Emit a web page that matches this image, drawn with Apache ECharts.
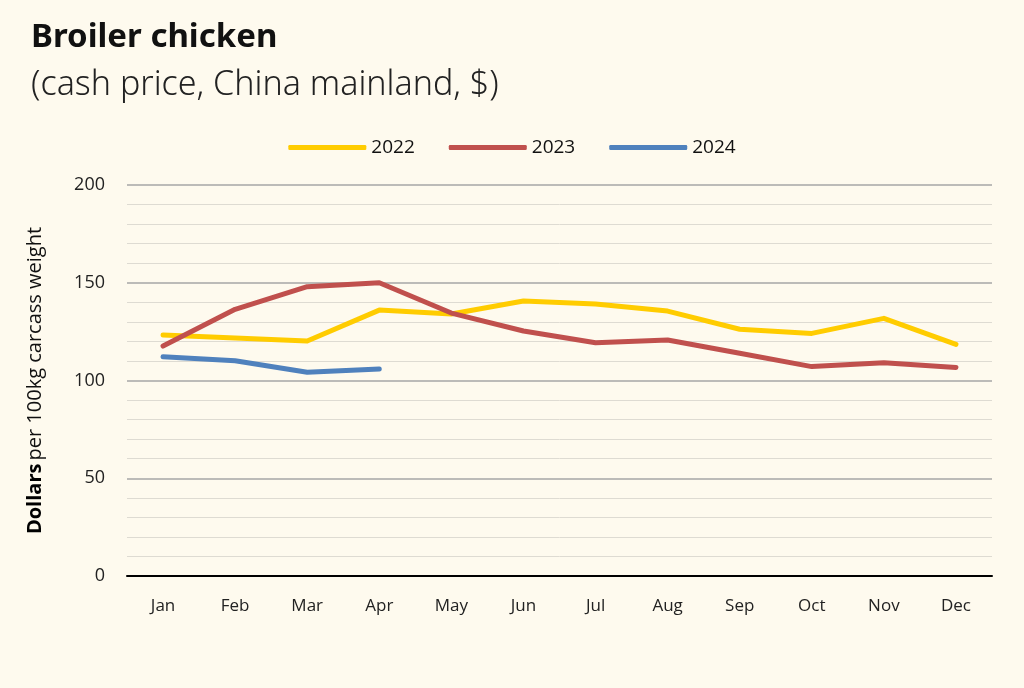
<!DOCTYPE html>
<html>
<head>
<meta charset="utf-8">
<script src="https://cdn.jsdelivr.net/npm/echarts@6/dist/echarts.min.js"></script>
<style>
    html, body { margin: 0; padding: 0; background: #fefaee; }
    #chart { width: 1024px; height: 688px; }
</style>
</head>
<body>
<div id="chart"></div>
<script>
const months = ['Jan', 'Feb', 'Mar', 'Apr', 'May', 'Jun', 'Jul', 'Aug', 'Sep', 'Oct', 'Nov', 'Dec'];
const price2022 = [123.3, 121.7, 120.2, 136, 134, 140.7, 139.1, 135.5, 126.2, 124.1, 131.8, 118.5];
const price2023 = [117.6, 136.4, 148, 150, 134.5, 125.3, 119.3, 120.7, 113.9, 107.1, 109.1, 106.7];
const price2024 = [112.2, 110.1, 104.2, 105.9];

const chart = echarts.init(document.getElementById('chart'));

const lineSeries = (name, data, color) => ({
    name: name,
    type: 'line',
    data: data,
    symbol: 'none',
    smooth: false,
    lineStyle: { color: color, width: 5, cap: 'round', join: 'round' },
    itemStyle: { color: color }
});

chart.setOption({
    backgroundColor: '#fefaee',
    textStyle: { fontFamily: 'Open Sans' },
    title: [
        {
            text: 'Broiler chicken',
            left: 26,
            top: 16,
            textStyle: { fontFamily: 'Noto Sans', fontSize: 33, fontWeight: 'bold', color: '#111' }
        },
        {
            text: '(cash price, China mainland, $)',
            left: 26,
            top: 63,
            textStyle: { fontFamily: 'Noto Sans', fontSize: 34, fontWeight: 300, color: '#222' }
        }
    ],
    legend: {
        top: 133,
        left: 'center',
        itemGap: 34,
        itemWidth: 78,
        itemHeight: 5,
        icon: 'roundRect',
        textStyle: { fontSize: 19, color: '#111', fontFamily: 'Open Sans' }
    },
    grid: { left: 127, right: 32, top: 185, bottom: 112 },
    xAxis: {
        type: 'category',
        data: months,
        boundaryGap: true,
        axisLine: { lineStyle: { color: '#000', width: 2 } },
        axisTick: { show: false },
        axisLabel: { fontSize: 17, color: '#222', margin: 22 }
    },
    yAxis: {
        type: 'value',
        min: 0,
        max: 200,
        interval: 50,
        name: '{b|Dollars} {n|per 100kg carcass weight}',
        nameLocation: 'middle',
        nameRotate: 90,
        nameGap: 82,
        nameTextStyle: {
            rich: {
                b: { fontSize: 20, fontWeight: 'bold', color: '#000', fontFamily: 'Open Sans' },
                n: { fontSize: 20, color: '#111', fontFamily: 'Open Sans' }
            }
        },
        axisLine: { show: false },
        axisTick: { show: false },
        axisLabel: { fontSize: 18, color: '#222', margin: 22 },
        splitLine: { lineStyle: { color: '#a6a6a6', width: 1.5 } },
        minorTick: { show: false, splitNumber: 5 },
        minorSplitLine: { show: true, lineStyle: { color: '#dedbd2', width: 1 } }
    },
    series: [
        lineSeries('2022', price2022, '#ffcc00'),
        lineSeries('2023', price2023, '#c0504d'),
        lineSeries('2024', price2024, '#4f81bd')
    ]
});
</script>
</body>
</html>
